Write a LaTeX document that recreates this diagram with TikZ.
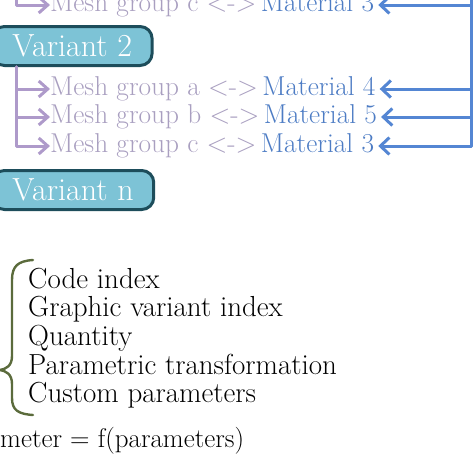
\documentclass[tikz,border=0pt]{standalone}
\usepackage{fontspec}
\usetikzlibrary{arrows.meta}
\definecolor{varfill}{HTML}{7DC3D6}
\definecolor{vardark}{HTML}{1D4D5B}
\definecolor{meshgray}{HTML}{A99FC0}
\definecolor{treepurple}{HTML}{AE9ACA}
\definecolor{matblue}{HTML}{4D7CC4}
\definecolor{linkblue}{HTML}{5486D3}
\definecolor{braceolive}{HTML}{5B6B3C}
\tikzset{
  variant/.style={draw=vardark, fill=varfill, line width=3pt, rounded corners=12pt, text=white,
    font=\fontsize{32}{34}\selectfont, inner xsep=20pt, minimum height=39pt, anchor=west},
  mesh/.style={text=meshgray, font=\fontsize{27.3}{30}\selectfont, inner sep=0pt,
    text height=19pt, text depth=7pt, anchor=base west},
  matl/.style={text=matblue, font=\fontsize{27.3}{30}\selectfont, inner xsep=4pt, inner ysep=0pt,
    text height=19pt, text depth=7pt, anchor=base west},
  tree/.style={draw=treepurple, line width=3pt, -{Straight Barb[length=9pt,width=16pt]}},
  link/.style={draw=linkblue, line width=3pt, -{Straight Barb[length=9pt,width=17pt]}},
  item/.style={font=\fontsize{29}{31}\selectfont, inner sep=0pt, anchor=base west},
  curlybrace/.style={draw=braceolive, line width=2.4pt},
}
\begin{document}
\begin{tikzpicture}[x=1pt, y=-1pt, line join=round, line cap=round]
    \useasboundingbox (0,0) rectangle (474,474);
    \clip (0,0) rectangle (474,474);
    % variants
    \node[variant] (v2) at (-9,46) {Variant 2};
    \node[variant] (vn) at (-9,190) {Variant n};
    % last mesh group of the variant above
    \node[mesh] (g0) at (50,11) {Mesh group c <->\ };
    \node[matl] (m0) at (g0.base east) {Material 3};
    % mesh groups of variant 2
    \foreach \grp/\matno/\y [count=\i] in {a/4/95, b/5/123, c/3/152} {
        \node[mesh] (g\i) at (50,\y) {Mesh group \grp{} <->\ };
        \node[matl] (m\i) at (g\i.base east) {Material \matno};
    }
    \coordinate (treetop) at (16,-10);
    \coordinate (linktop) at (471,-10);
    \draw[tree] (treetop) |- (g0.west);
    \foreach \i in {1,2,3} \draw[tree] (v2.south -| treetop) |- (g\i.west);
    \foreach \i in {0,...,3} \draw[link] (linktop) |- (m\i.east);
    % parameters
    \foreach \t [count=\i] in {Code index, Graphic variant index, Quantity, Parametric transformation, Custom parameters}
        \node[item] (it\i) at (28,{288+28.7*(\i-1)}) {\t};
    \draw[curlybrace] (33,260) .. controls (18,261) and (12,266) .. (12,280) -- (12,356)
        .. controls (12,366) and (6,369) .. (0,370) .. controls (6,371) and (12,374) .. (12,384)
        -- (12,398) .. controls (12,410) and (18,414) .. (33,415);
    \node[item, font=\fontsize{27}{29}\selectfont] (fml) at (0,447) {meter = f(parameters)};
\end{tikzpicture}
\end{document}
